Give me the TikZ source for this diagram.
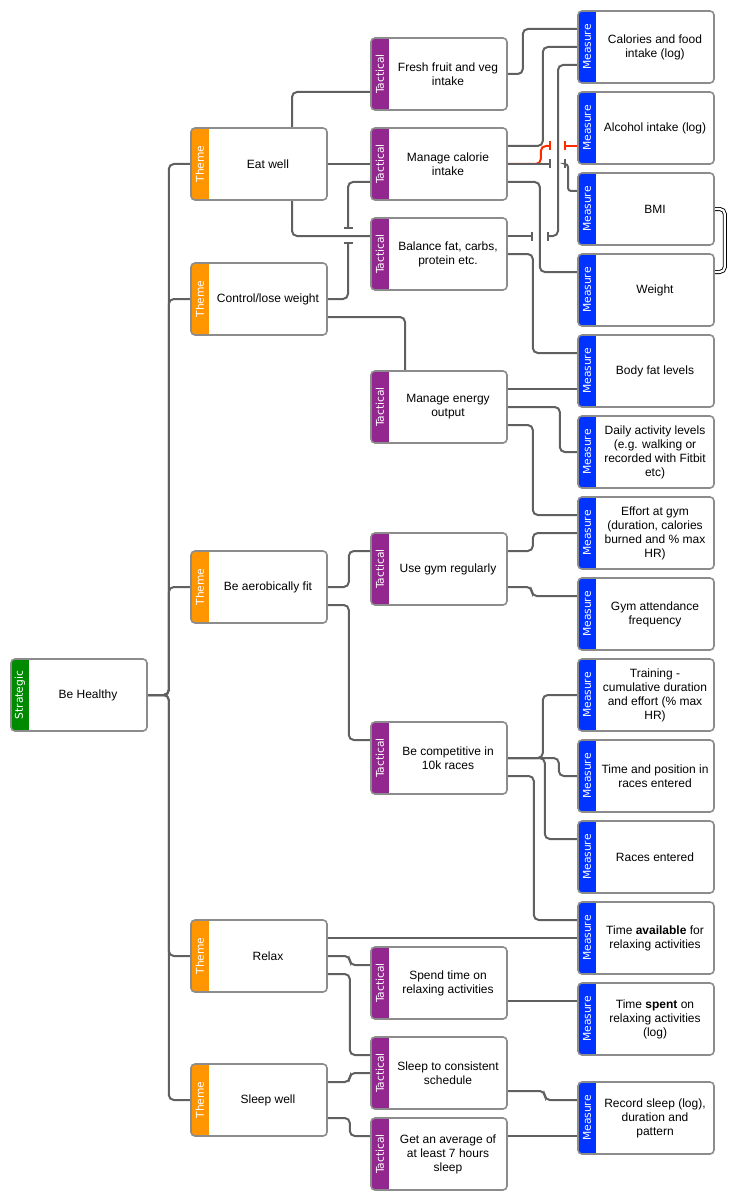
\documentclass[tikz,border=0pt]{standalone}
\usepackage{fontspec}
\setmainfont{Liberation Sans}
\newfontfamily\stripfont{DejaVu Sans}
\usetikzlibrary{arrows.meta,backgrounds}
\definecolor{stratgreen}{HTML}{008A00}
\definecolor{themeorange}{HTML}{FF9600}
\definecolor{tactpurple}{HTML}{92278F}
\definecolor{measblue}{HTML}{0033FF}
\definecolor{boxgray}{HTML}{8C8C8C}
\definecolor{conngray}{HTML}{606060}
\definecolor{selred}{HTML}{FF2A00}
\newcommand\bx[6]{%
  \node[box={#4}{#5}] (#1) at (#2,#3) {};
  \node[txt] (#1-t) at ([xshift=9pt]#1.center) {#6};}
\begin{document}
\begin{tikzpicture}[x=1pt,y=-1pt,
  box/.style 2 args={draw=boxgray, line width=1.6pt, fill=white, rounded corners=4pt,
    minimum width=136pt, minimum height=72pt, inner sep=0pt,
    path picture={\fill[#1, sharp corners] (path picture bounding box.north west) rectangle ([xshift=18pt]path picture bounding box.south west);
      \node[rotate=90, text=white, font=\stripfont\fontsize{10.7}{12}\selectfont, inner sep=0pt] at ([xshift=9pt]path picture bounding box.west) {#2};}},
  txt/.style={align=center, font=\fontsize{12}{14}\selectfont, inner sep=0pt},
  conn/.style={draw=conngray, line width=2pt, rounded corners=5pt},
  redconn/.style={draw=selred, line width=2pt, rounded corners=5pt},
  gapend/.style={-{Bar[width=9pt]}},
  gapstart/.style={{Bar[width=9pt]}-},
  linkconn/.style={draw=black, line width=0.9pt, double=white, double distance=2.2pt, rounded corners=5pt}
]
\useasboundingbox (0,0) rectangle (737,1201);

% strategic
\bx{strat}{79}{695}{stratgreen}{Strategic}{Be Healthy}
% themes
\bx{eat}{259}{164}{themeorange}{Theme}{Eat well}
\bx{control}{259}{299}{themeorange}{Theme}{Control/lose weight}
\bx{aero}{259}{587}{themeorange}{Theme}{Be aerobically fit}
\bx{relax}{259}{956}{themeorange}{Theme}{Relax}
\bx{sleep}{259}{1100}{themeorange}{Theme}{Sleep well}
% tactical
\bx{fresh}{439}{74}{tactpurple}{Tactical}{Fresh fruit and veg\\intake}
\bx{calorie}{439}{164}{tactpurple}{Tactical}{Manage calorie\\intake}
\bx{balance}{439}{254}{tactpurple}{Tactical}{Balance fat, carbs,\\protein etc.}
\bx{energy}{439}{407}{tactpurple}{Tactical}{Manage energy\\output}
\bx{gym}{439}{569}{tactpurple}{Tactical}{Use gym regularly}
\bx{compete}{439}{758}{tactpurple}{Tactical}{Be competitive in\\10k races}
\bx{spend}{439}{983}{tactpurple}{Tactical}{Spend time on\\relaxing activities}
\bx{sleepcons}{439}{1073}{tactpurple}{Tactical}{Sleep to consistent\\schedule}
\bx{avg}{439}{1154}{tactpurple}{Tactical}{Get an average of\\at least 7 hours\\sleep}
% measures
\bx{cal}{646}{47}{measblue}{Measure}{Calories and food\\intake (log)}
\bx{alc}{646}{128}{measblue}{Measure}{Alcohol intake (log)}
\bx{bmi}{646}{209}{measblue}{Measure}{BMI}
\bx{weight}{646}{290}{measblue}{Measure}{Weight}
\bx{bodyfat}{646}{371}{measblue}{Measure}{Body fat levels}
\bx{daily}{646}{452}{measblue}{Measure}{Daily activity levels\\(e.g. walking or\\recorded with Fitbit\\etc)}
\bx{effort}{646}{533}{measblue}{Measure}{Effort at gym\\(duration, calories\\burned and \% max\\HR)}
\bx{gymatt}{646}{614}{measblue}{Measure}{Gym attendance\\frequency}
\bx{training}{646}{695}{measblue}{Measure}{Training -\\cumulative duration\\and effort (\% max\\HR)}
\bx{timepos}{646}{776}{measblue}{Measure}{Time and position in\\races entered}
\bx{races}{646}{857}{measblue}{Measure}{Races entered}
\bx{timeavail}{646}{938}{measblue}{Measure}{Time \textbf{available} for\\relaxing activities}
\bx{timespent}{646}{1019}{measblue}{Measure}{Time \textbf{spent} on\\relaxing activities\\(log)}
\bx{recsleep}{646}{1118}{measblue}{Measure}{Record sleep (log),\\duration and\\pattern}

% gap coordinates
\coordinate (ga1) at (348,242); \coordinate (ga2) at (348,229);
\coordinate (gb1) at (533,236); \coordinate (gb2) at (547,236);
\coordinate (gc1) at (551,164); \coordinate (gc2) at (564,164);
\coordinate (gd1) at (551,146); \coordinate (gd2) at (564,146);

\begin{scope}[on background layer]
% strategic to themes
\foreach \t in {eat,control,aero,relax,sleep}
  \draw[conn] (strat.east) -- ++(21,0) |- (\t.west);
% eat well
\draw[conn] ([xshift=33pt]eat.north) |- ([yshift=-18pt]fresh.west);
\draw[conn] (eat.east) -- (calorie.west);
\draw[conn] ([xshift=33pt]eat.south) |- ([yshift=18pt]balance.west);
% control
\draw[conn,gapend] (control.east) -| (ga1);
\draw[conn,gapstart] (ga2) |- ([yshift=-18pt]calorie.west);
\draw[conn] ([yshift=-18pt]control.east) -| ([xshift=-34pt]energy.north);
% red selected connector calorie -> alcohol
\draw[redconn,gapend] (calorie.east) -- ++(33,0) |- (gd1);
\draw[redconn,gapstart] (gd2) -- ([yshift=-18pt]alc.west);
% to calories
\draw[conn] (fresh.east) -- ++(15,0) |- ([yshift=18pt]cal.west);
\draw[conn] ([yshift=18pt]calorie.east) -- ++(35,0) |- (cal.west);
\draw[conn,gapend] ([yshift=18pt]balance.east) -- (gb1);
\draw[conn,gapstart] (gb2) -- ++(11,0) |- ([yshift=-18pt]cal.west);
% calorie -> bmi
\draw[conn,gapend] (calorie.east) -- (gc1);
\draw[conn,gapstart,rounded corners=3pt] (gc2) -- ++(4,0) |- ([yshift=18pt]bmi.west);
% calorie -> weight
\draw[conn] ([yshift=-18pt]calorie.east) -- ++(32,0) |- ([yshift=18pt]weight.west);
% balance -> body fat
\draw[conn] (balance.east) -- ++(25,0) |- ([yshift=18pt]bodyfat.west);
% bmi <-> weight link
\draw[linkconn] (bmi.east) -- ++(10,0) |- ([yshift=18pt]weight.east);
% energy
\draw[conn] ([yshift=18pt]energy.east) -- ([yshift=-18pt]bodyfat.west);
\draw[conn] (energy.east) -- ++(52,0) |- (daily.west);
\draw[conn] ([yshift=-18pt]energy.east) -- ++(25,0) |- ([yshift=18pt]effort.west);
% gym
\draw[conn] ([yshift=18pt]gym.east) -- ++(25,0) |- (effort.west);
\draw[conn] ([yshift=-18pt]gym.east) -- ++(24,0) |- ([yshift=18pt]gymatt.west);
% aerobically fit
\draw[conn] (aero.east) -- ++(21,0) |- ([yshift=18pt]gym.west);
\draw[conn] ([yshift=-18pt]aero.east) -- ++(21,0) |- ([yshift=18pt]compete.west);
% competitive
\draw[conn] (compete.east) -- ++(35,0) |- (training.west);
\draw[conn] (compete.east) -- ++(51,0) |- (timepos.west);
\draw[conn] (compete.east) -- ++(37,0) |- ([yshift=18pt]races.west);
\draw[conn] ([yshift=-18pt]compete.east) -- ++(26,0) |- ([yshift=18pt]timeavail.west);
% relax
\draw[conn] ([yshift=18pt]relax.east) -- (timeavail.west);
\draw[conn] (relax.east) -- ++(22,0) |- ([yshift=18pt]spend.west);
\draw[conn] ([yshift=-18pt]relax.east) -- ++(22,0) |- ([yshift=18pt]sleepcons.west);
% sleep
\draw[conn] ([yshift=18pt]sleep.east) -- ++(22,0) |- (sleepcons.west);
\draw[conn] ([yshift=-18pt]sleep.east) -- ++(22,0) |- ([yshift=18pt]avg.west);
% tactical to measures (bottom)
\draw[conn] ([yshift=-18pt]spend.east) -- ([yshift=18pt]timespent.west);
\draw[conn] ([yshift=-18pt]sleepcons.east) -- ++(37,0) |- ([yshift=18pt]recsleep.west);
\draw[conn] ([yshift=18pt]avg.east) -- ([yshift=-18pt]recsleep.west);
\end{scope}
\end{tikzpicture}
\end{document}
